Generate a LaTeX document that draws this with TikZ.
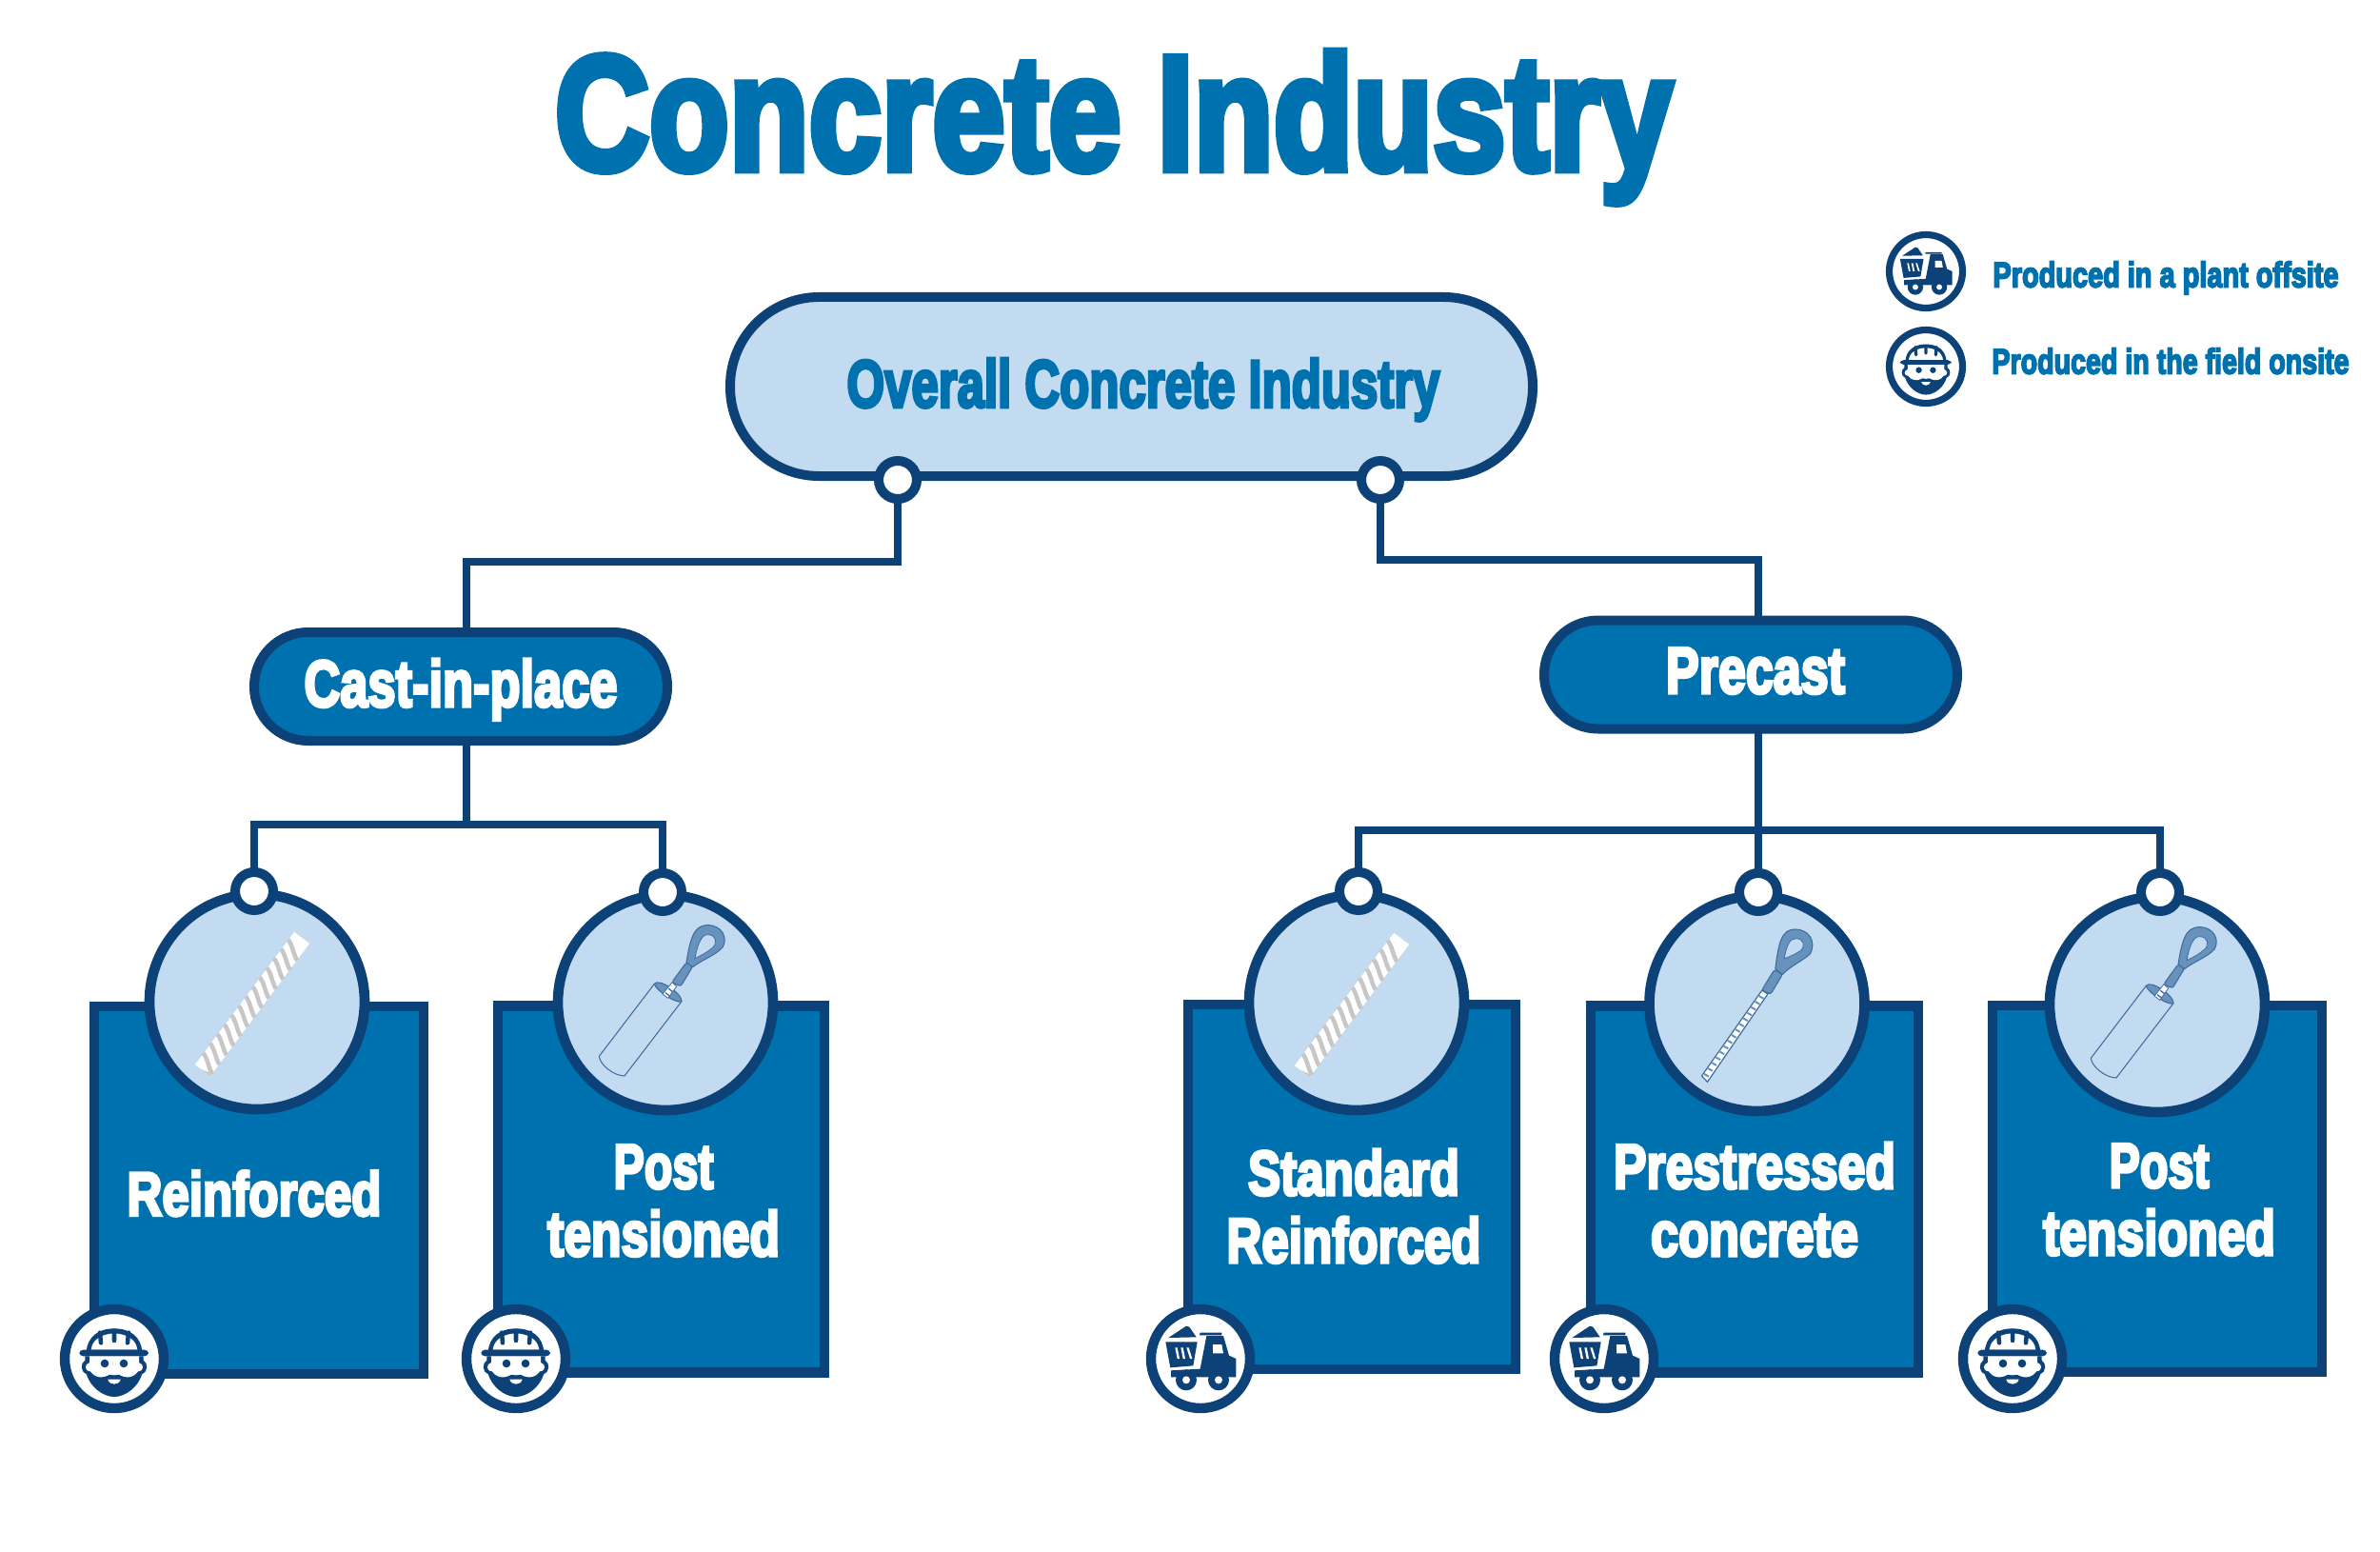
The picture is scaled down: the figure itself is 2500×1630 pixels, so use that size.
\documentclass[tikz,border=0pt]{standalone}
\usepackage{fontspec}
\usepackage{graphicx}
\newfontfamily\imp{Liberation Sans Bold}[FakeBold=5]
\definecolor{dk}{HTML}{0C4278}
\definecolor{mainblue}{HTML}{0071AF}
\definecolor{lt}{HTML}{C3DBF1}
\definecolor{midb}{HTML}{6792BC}
\definecolor{lnb}{HTML}{3F6C9F}
\newcommand\pxu{0.75pt}
% width px, height px, text
\newcommand\imt[3]{\raisebox{0pt}[\height][0pt]{\resizebox{#1\dimexpr\pxu\relax}{#2\dimexpr\pxu\relax}{\imp\vphantom{Hd}#3}}}
\tikzset{
 conn/.style={draw=dk,line width=6pt},
 pill/.style={draw=dk,line width=7.5pt,fill=lt,rectangle,inner sep=0pt},
 pilldark/.style={draw=dk,line width=7.5pt,fill=mainblue,rectangle,inner sep=0pt,minimum width=434*\pxu,minimum height=114*\pxu,rounded corners=42.5pt},
 boxn/.style={draw=dk,line width=7.8pt,fill=mainblue,rectangle,inner sep=0pt},
 bigc/.style={draw=dk,line width=8pt,fill=lt,circle,inner sep=0pt,minimum size=226*\pxu},
 smallc/.style={draw=dk,line width=7.5pt,fill=white,circle,inner sep=0pt,minimum size=40*\pxu},
 badge/.style={draw=dk,line width=7.8pt,fill=white,circle,inner sep=0pt,minimum size=104*\pxu},
 legbadge/.style={draw=dk,line width=5.4pt,fill=white,circle,inner sep=0pt,minimum size=77*\pxu},
 txt/.style={inner sep=0pt,align=center,text=white,font=\fontsize{10}{53.2pt}\selectfont},
 bluetxt/.style={inner sep=0pt,text=mainblue,font=\fontsize{10}{12}\selectfont},
}
\newcommand\truckicon[3]{%
\begin{scope}[shift={(#1,#2)},scale=#3/3,shift={(-213,-200)}]
 \fill[dk] (112,134) -- (168,97) -- (178,100) -- (200,132) -- cycle;
 \fill[dk] (103,147) -- (203,147) -- (190,222) -- (118,228) -- cycle;
 \fill[dk] (212,118) -- (280,118) -- (280,126) -- (210,126) -- cycle;
 \fill[dk] (232,128) -- (285,128) -- (303,190) -- (325,200) -- (325,258) -- (120,258) -- (120,237) -- (212,232) -- cycle;
 \fill[white] (252,155) -- (280,155) -- (285,183) -- (252,183) -- cycle;
 \fill[white] (133,165) -- (140,165) -- (147,200) -- (140,200) -- cycle;
 \fill[white] (151,165) -- (158,165) -- (165,200) -- (158,200) -- cycle;
 \fill[white] (169,165) -- (176,165) -- (187,200) -- (180,200) -- cycle;
 \fill[dk] (168,267) circle (33);
 \fill[dk] (270,267) circle (33);
 \fill[white] (168,267) circle (12);
 \fill[white] (270,267) circle (12);
\end{scope}}
\newcommand\workericon[3]{%
\begin{scope}[shift={(#1,#2)},scale=#3/3,shift={(-210,-200)}]
 \fill[dk] (122,180) .. controls (125,130) and (160,105) .. (210,105) .. controls (260,105) and (295,130) .. (298,180) -- cycle;
 \fill[white] (137,172) .. controls (140,140) and (170,122) .. (210,120) .. controls (250,122) and (280,140) .. (283,172) -- cycle;
 \draw[dk,line width=#3*3.4pt,line cap=round] (165,118) -- (168,150) (210,112) -- (210,143) (255,118) -- (252,150);
 \fill[dk,rounded corners=3pt] (100,172) rectangle (318,192);
 \fill[dk] (118,192) -- (118,205) .. controls (103,215) and (103,240) .. (122,248) .. controls (135,290) and (175,320) .. (210,320) .. controls (245,320) and (285,290) .. (298,248) .. controls (317,240) and (317,215) .. (302,205) -- (302,192) -- cycle;
 \fill[white] (132,192) -- (132,212) .. controls (115,218) and (115,238) .. (135,240) .. controls (150,262) and (175,262) .. (195,250) -- (210,252) -- (225,250) .. controls (245,262) and (270,262) .. (285,240) .. controls (305,238) and (305,218) .. (288,212) -- (288,192) -- cycle;
 \fill[dk] (180,215) circle (13);
 \fill[dk] (240,215) circle (13);
 \fill[white] (190,265) .. controls (195,285) and (225,285) .. (230,265) -- cycle;
\end{scope}}
\newcommand\rebaricon[2]{%
\begin{scope}[shift={(#1,#2)},shift={(-5,2.5)},rotate=53.2]
 \fill[white] (-87,-10) rectangle (87,10);
 \foreach \t in {-72,-59.6,...,82} {\draw[black!22,line width=3.4pt] (\t,-10.5) .. controls (\t-2,-3) and (\t-9,3) .. (\t-12,10.5);}
 \fill[black!22] (-87,10) -- (-87,-2) -- (-84,10) -- cycle;
\end{scope}}
\newcommand\anchoricon[2]{%
\begin{scope}[shift={(#1,#2)},scale=1/3,shift={(-417,-399)}]
 \draw[lnb,line width=0.8pt] (382,340) -- (208,568) .. controls (210,595) and (255,630) .. (288,630) -- (468,395);
 \filldraw[draw=lnb,fill=midb,line width=0.8pt] (382,340) .. controls (395,320) and (470,370) .. (468,395) .. controls (455,405) and (385,360) .. (382,340) -- cycle;
 \filldraw[draw=lnb,fill=white,line width=0.6pt] (408,372) -- (438,335) -- (452,348) -- (425,385) -- cycle;
 \draw[lnb,line width=1pt] (417,368) -- (430,378) (427,355) -- (440,365);
 \filldraw[draw=lnb,fill=midb,line width=0.8pt,rounded corners=2pt] (437,335) -- (483,272) -- (503,285) -- (465,348) -- cycle;
 \filldraw[draw=lnb,fill=midb,line width=0.8pt] (483,272) .. controls (495,200) and (505,155) .. (550,155) .. controls (595,155) and (615,195) .. (597,225) .. controls (575,250) and (530,265) .. (503,287) -- cycle;
 \filldraw[draw=lnb,fill=lt,line width=0.6pt] (510,260) .. controls (518,215) and (530,185) .. (550,185) .. controls (578,185) and (582,212) .. (565,226) .. controls (550,240) and (530,250) .. (510,260) -- cycle;
\end{scope}}
\newcommand\strandicon[2]{%
\begin{scope}[shift={(#1,#2)},scale=1/3,shift={(-377,-402)}]
 \filldraw[draw=lnb,fill=white,line width=0.9pt] (203,630) -- (393,360) -- (411,372) -- (221,649) -- cycle;
 \foreach \t in {0.03,0.095,...,0.98} {\draw[midb,line width=1.5pt] ({205+190*\t},{632-270*\t}) -- ({219+190*\t},{640-270*\t});}
 \filldraw[draw=lnb,fill=midb,line width=0.8pt,rounded corners=2pt] (392,360) -- (432,295) -- (458,310) -- (420,373) -- cycle;
 \filldraw[draw=lnb,fill=midb,line width=0.8pt] (435,293) .. controls (445,210) and (455,168) .. (497,168) .. controls (540,168) and (565,205) .. (545,245) .. controls (525,265) and (480,285) .. (458,310) -- cycle;
 \filldraw[draw=lnb,fill=lt,line width=0.6pt] (463,260) .. controls (470,220) and (480,197) .. (500,197) .. controls (525,197) and (530,220) .. (515,235) .. controls (500,245) and (480,255) .. (463,260) -- cycle;
\end{scope}}
\begin{document}
\begin{tikzpicture}[x=0.75pt,y=-0.75pt]
\useasboundingbox (0,0) rectangle (2500,1630);
\fill[white] (0,0) rectangle (2500,1630);
% title
\node[bluetxt] (title) at (1170,116) {\imt{1174}{124}{Concrete Industry}};
% named positions
\coordinate (busL) at (490,866);
\coordinate (busR) at (1847,872);
\coordinate (castIn) at (490,661);
\coordinate (castOut) at (490,782);
\coordinate (preIn) at (1847,649);
\coordinate (preOut) at (1847,769);
% small circles (named first so connectors can use them)
\node[smallc,opacity=0] (o1) at (943,504) {};
\node[smallc,opacity=0] (o2) at (1450,504) {};
\node[smallc,opacity=0] (s1) at (267,936) {};
\node[smallc,opacity=0] (s2) at (696,937) {};
\node[smallc,opacity=0] (s3) at (1427,936) {};
\node[smallc,opacity=0] (s4) at (1847,937) {};
\node[smallc,opacity=0] (s5) at (2269,937) {};
% connectors
\draw[conn] (o1.center) -- ++(0,86) -| (castIn);
\draw[conn] (o2.center) -- ++(0,84) -| (preIn);
\draw[conn] (castOut) -- (busL);
\draw[conn] (s1.center) -- (s1.center |- busL) -- (s2.center |- busL) -- (s2.center);
\draw[conn] (preOut) -- (s4.center);
\draw[conn] (s3.center) -- (s3.center |- busR) -- (s5.center |- busR) -- (s5.center);
% pills
\node[pill,minimum width=843*\pxu,minimum height=188*\pxu,rounded corners=70pt] (overall) at (1188.5,406) {};
\node[inner sep=0pt,text=mainblue,font=\fontsize{10}{12}\selectfont] (overallT) at (1201,402) {\imt{623}{51}{Overall Concrete Industry}};
\node[pilldark] (cast) at (484,721) {};
\node[txt] (castT) at (484,717) {\imt{329}{50}{Cast-in-place}};
\node[pilldark] (pre) at (1839,708.5) {};
\node[txt] (preT) at (1844,703) {\imt{188}{50}{Precast}};
% top circles on pill
\node[smallc] at (o1) {};
\node[smallc] at (o2) {};
% boxes
\node[boxn,minimum width=346*\pxu,minimum height=386*\pxu] (b1) at (272,1250) {};
\node[boxn,minimum width=343*\pxu,minimum height=385*\pxu] (b2) at (694.5,1249) {};
\node[boxn,minimum width=344*\pxu,minimum height=383*\pxu] (b3) at (1420,1246.5) {};
\node[boxn,minimum width=344*\pxu,minimum height=385*\pxu] (b4) at (1843,1249) {};
\node[boxn,minimum width=346*\pxu,minimum height=385*\pxu] (b5) at (2266,1248.5) {};
% big circles
\node[bigc] (c1) at (270,1052) {};
\node[bigc] (c2) at (699,1053) {};
\node[bigc] (c3) at (1425,1053) {};
\node[bigc] (c4) at (1845.5,1054) {};
\node[bigc] (c5) at (2266,1055) {};
\rebaricon{270}{1052}
\anchoricon{699}{1053}
\rebaricon{1425}{1053}
\strandicon{1845.5}{1054}
\anchoricon{2266}{1055}
% small circles on top
\node[smallc] at (s1) {};
\node[smallc] at (s2) {};
\node[smallc] at (s3) {};
\node[smallc] at (s4) {};
\node[smallc] at (s5) {};
% labels
\node[txt] (t1) at (267,1253) {\imt{267}{47}{Reinforced}};
\node[txt] (t2) at (697,1259.5) {\imt{105}{48}{Post}\\\imt{244}{48}{tensioned}};
\node[txt] (t3) at (1422,1266.5) {\imt{222}{48}{Standard}\\\imt{267}{48}{Reinforced}};
\node[txt] (t4) at (1843,1259.5) {\imt{296}{48}{Prestressed}\\\imt{218}{48}{concrete}};
\node[txt] (t5) at (2268,1258.5) {\imt{105}{48}{Post}\\\imt{244}{48}{tensioned}};
% badges
\node[badge] (d1) at (120,1427) {};
\workericon{120}{1427}{1}
\node[badge] (d2) at (542,1427) {};
\workericon{542}{1427}{1}
\node[badge] (d3) at (1261,1427) {};
\truckicon{1261}{1427}{1}
\node[badge] (d4) at (1685,1427) {};
\truckicon{1685}{1427}{1}
\node[badge] (d5) at (2114,1427) {};
\workericon{2114}{1427}{1}
% legend
\node[legbadge] (l1) at (2023,285) {};
\truckicon{2023}{285}{0.74}
\node[legbadge] (l2) at (2023,385) {};
\workericon{2023}{385}{0.74}
\node[bluetxt] (lt1) at (2275,288) {\imt{363}{27}{Produced in a plant offsite}};
\node[bluetxt] (lt2) at (2280,379) {\imt{375}{27}{Produced in the field onsite}};
\end{tikzpicture}
\end{document}
